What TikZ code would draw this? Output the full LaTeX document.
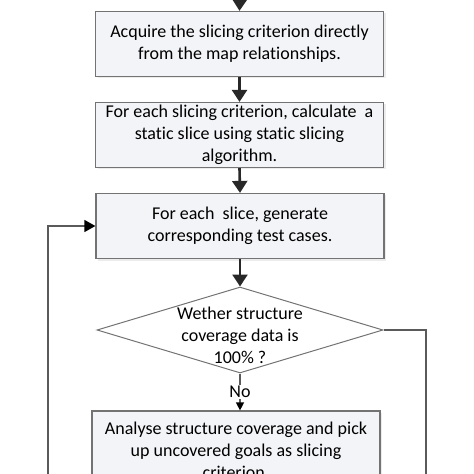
\documentclass[tikz,border=0pt]{standalone}
\usepackage{fontspec}
\setmainfont{Carlito}[Ligatures=NoCommon]
\usepackage{tikz}
\usetikzlibrary{arrows.meta}
\usetikzlibrary{positioning}
\usetikzlibrary{shapes.geometric}
\usetikzlibrary{shadows}
\definecolor{boxfill}{RGB}{243, 244, 247}
\definecolor{boxline}{RGB}{115, 115, 115}
\definecolor{flowdark}{RGB}{40, 40, 40}
\definecolor{loopgray}{RGB}{90, 90, 90}

\begin{document}
\begin{tikzpicture}[x=1bp, y=-1bp,
    font=\fontsize{18bp}{22bp}\selectfont,
    stepbox/.style={draw=boxline, fill=boxfill, line width=1.2bp, minimum width=288bp,
        minimum height=65bp, inner sep=0pt, align=center,
        drop shadow={opacity=0.15, shadow xshift=2bp, shadow yshift=-2bp}},
    decision/.style={diamond, draw=boxline, fill=white, line width=1bp,
        minimum width=286bp, minimum height=86bp, inner sep=0pt},
    flow/.style={draw=flowdark, line width=2.6bp, -{Triangle[length=12bp, width=15bp]}},
    loopline/.style={draw=loopgray, line width=1.3bp},
    loopin/.style={loopline, -{Triangle[length=11bp, width=12bp, color=black]}}]
            \clip (0,0) rectangle (474,474);
            % boxes of the flow
            \coordinate (top)      at (240,-14);
            \node[stepbox] (acquire)  at (239.5, 44.0) {Acquire the slicing criterion directly\\from the map relationships.};
            \node[stepbox] (static)   at (239.5,135.0) {For each slicing criterion, calculate\ \ a\\static slice using static slicing\\algorithm.};
            \node[stepbox] (generate) at (240.0,226.0) {For each\ \ slice, generate\\corresponding test cases.};
            \node[decision] (check)   at (240.0,330.0) {};
            \node[align=center] (checktext) at (240.0,335.0) {Wether structure\\coverage data is\\100\% ?};
            \node[stepbox, minimum height=78bp] (analyse) at (236.0,450.0) {Analyse structure coverage and pick\\up uncovered goals as slicing\\criterion.};
            \coordinate (yesend)   at (426,500);
            \coordinate (loopfoot) at (48,500);
            % connectors
            \draw[flow] (top) -- (acquire.north);
            \draw[flow] (acquire.south) -- (static.north);
            \draw[flow] (static.south) -- (generate.north);
            \draw[flow] (generate.south) -- (check.north);
            \draw[loopline, -{Triangle[length=8bp, width=8bp, color=black]}] (check.south)
                 -- node[fill=white, inner sep=1bp] (no) {No} (check.south |- analyse.north);
            \draw[loopline] (check.east) -| (yesend);
            \draw[loopin] (loopfoot) |- (generate.west);
        \end{tikzpicture}
\end{document}
